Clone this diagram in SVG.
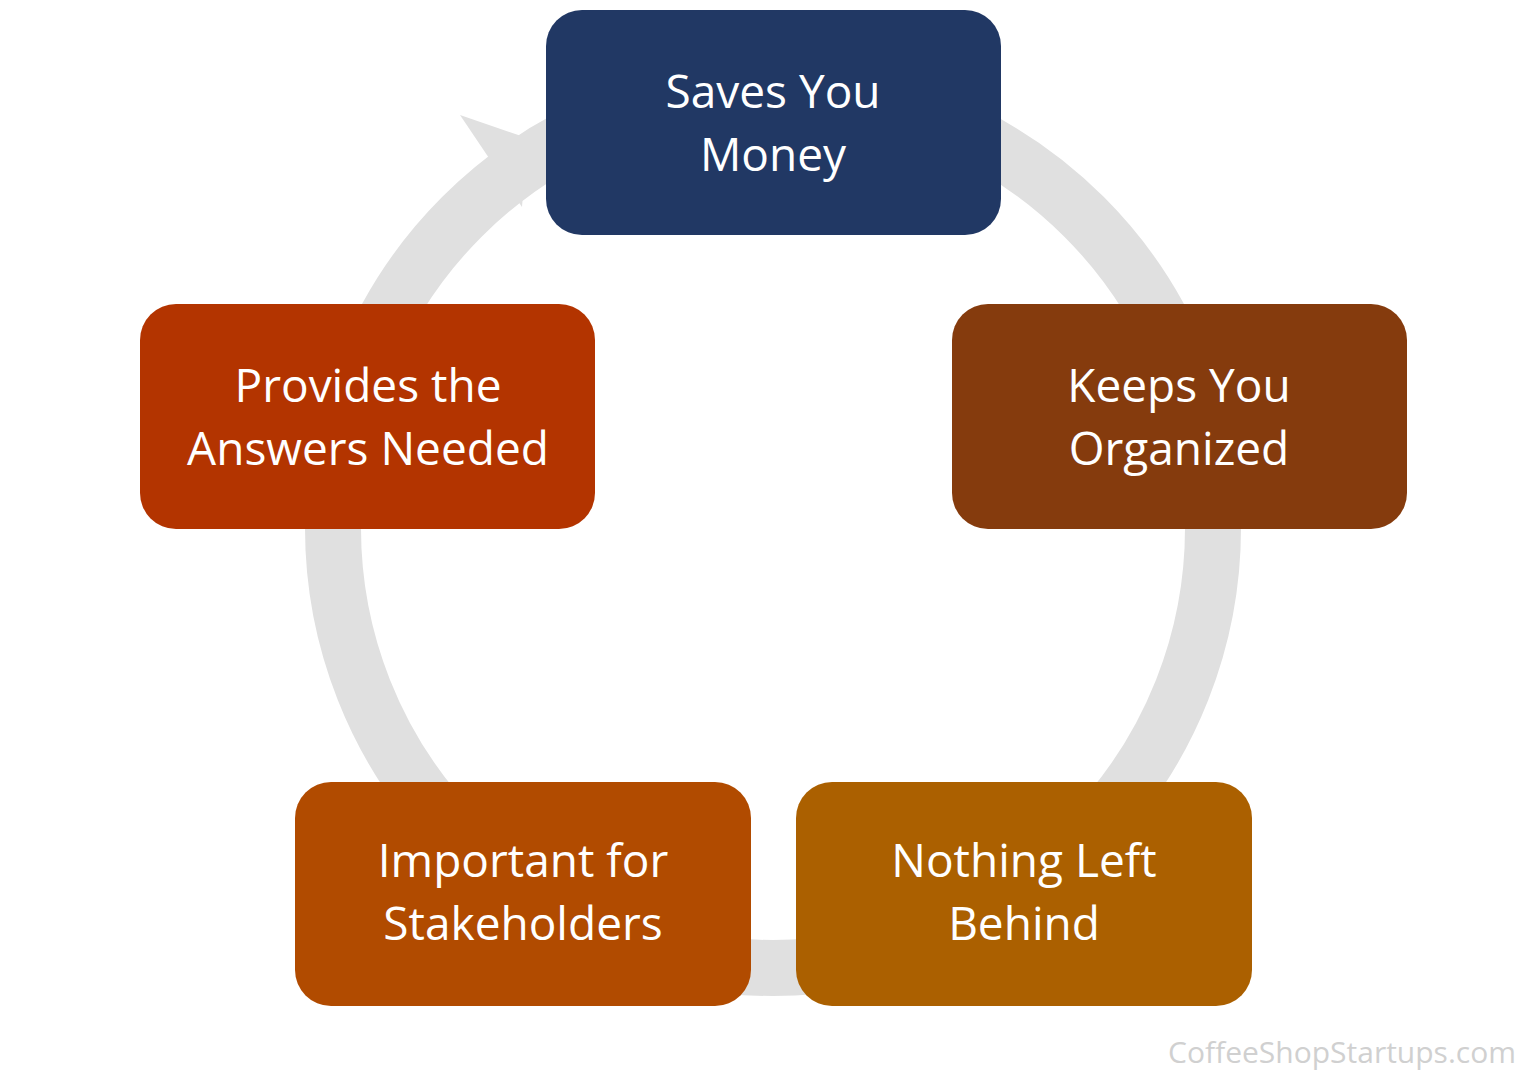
<svg xmlns="http://www.w3.org/2000/svg" width="1536" height="1087" viewBox="0 0 1536 1087">
<style>
.b{stroke:none}
.t{font-family:"Open Sans","DejaVu Sans",sans-serif;font-size:46px;fill:#fff;text-anchor:middle}
.w{font-family:"Open Sans","DejaVu Sans",sans-serif;font-size:30px;fill:#d0d0d0;text-anchor:end}
</style>
<rect width="1536" height="1087" fill="#fff"/>
<g id="connectors">
<circle cx="773" cy="528" r="440" fill="none" stroke="#e0e0e0" stroke-width="56"/>
<polygon points="460,115 527,138 522,207" fill="#e0e0e0"/>
</g>
<g id="n1"><rect x="546" y="10" width="455" height="225" rx="36" fill="#213864"/><text class="t" x="773" y="108">Saves You</text><text class="t" x="773" y="171">Money</text></g>
<g id="n2"><rect x="952" y="304" width="455" height="225" rx="36" fill="#853b0d"/><text class="t" x="1179" y="402">Keeps You</text><text class="t" x="1179" y="465">Organized</text></g>
<g id="n3"><rect x="796" y="782" width="456" height="224" rx="36" fill="#ab6000"/><text class="t" x="1024" y="877">Nothing Left</text><text class="t" x="1024" y="940">Behind</text></g>
<g id="n4"><rect x="295" y="782" width="456" height="224" rx="36" fill="#b14b00"/><text class="t" x="523" y="877">Important for</text><text class="t" x="523" y="940">Stakeholders</text></g>
<g id="n5"><rect x="140" y="304" width="455" height="225" rx="36" fill="#b33400"/><text class="t" x="368" y="402">Provides the</text><text class="t" x="368" y="465">Answers Needed</text></g>
<text class="w" x="1516" y="1063">CoffeeShopStartups.com</text>
</svg>
